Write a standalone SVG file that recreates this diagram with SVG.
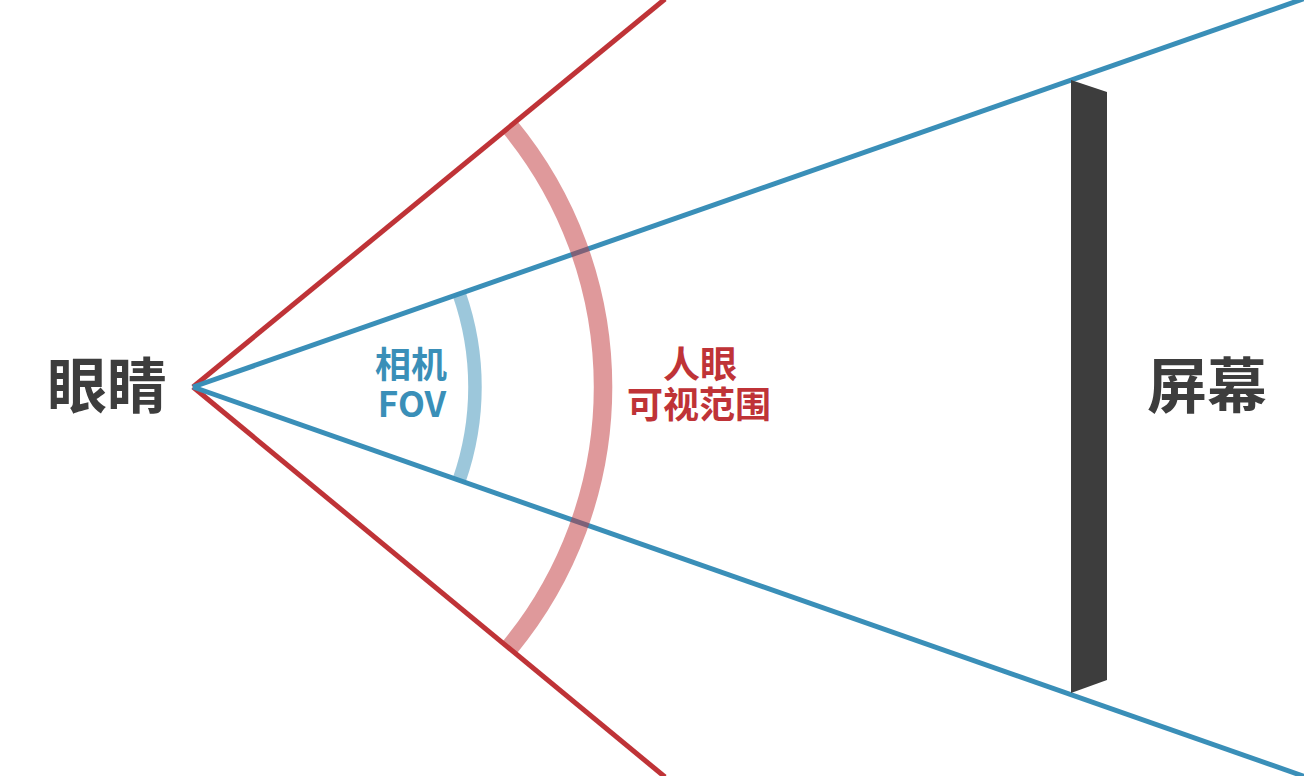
<svg xmlns="http://www.w3.org/2000/svg" width="1304" height="776" viewBox="0 0 1304 776">
<style>
.red{stroke:#bf3337;stroke-width:5;fill:none}
.blue{stroke:#3a8fb8;stroke-width:5;fill:none}
.t{font-family:"Noto Sans CJK SC","Noto Sans",sans-serif;font-weight:bold;text-anchor:middle}
.dark{fill:#3d3d3d}
</style>
<rect width="1304" height="776" fill="#ffffff"/>
<g id="connectors">
<line class="red" x1="193" y1="387" x2="665" y2="-1"/>
<line class="red" x1="193" y1="387" x2="665" y2="777"/>
<line class="blue" x1="193" y1="387" x2="1306" y2="-2"/>
<line class="blue" x1="193" y1="387" x2="1306" y2="777"/>
</g>
<g id="eye-range-arc">
<path d="M509.4 126.2 A410 410 0 0 1 509.4 647.8" fill="none" stroke="#bf3337" stroke-opacity="0.5" stroke-width="18.5"/>
</g>
<g id="camera-fov-arc">
<path d="M459.2 294 A282 282 0 0 1 459.2 480" fill="none" stroke="#3a8fb8" stroke-opacity="0.5" stroke-width="13.5"/>
</g>
<g id="screen">
<polygon class="dark" points="1071,80 1107,92 1107,680 1071,693"/>
<text class="t dark" x="1207" y="408" font-size="60">屏幕</text>
</g>
<g id="eye">
<text class="t dark" x="107" y="408" font-size="60">眼睛</text>
</g>
<g id="camera-fov-label">
<text class="t" fill="#3a8fb8" x="411" y="378" font-size="36">相机</text>
<text class="t" fill="#3a8fb8" x="412" y="417" font-size="35">FOV</text>
</g>
<g id="eye-range-label">
<text class="t" fill="#bf3337" x="700" y="378" font-size="37">人眼</text>
<text class="t" fill="#bf3337" x="699" y="418" font-size="36">可视范围</text>
</g>
</svg>
